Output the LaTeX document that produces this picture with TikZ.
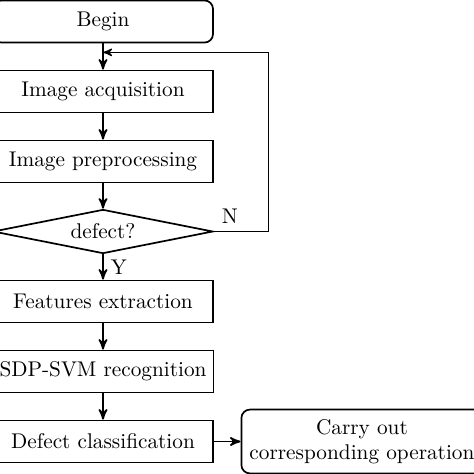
\documentclass[tikz,border=0pt]{standalone}
\usetikzlibrary{arrows,positioning,shapes.geometric}

\begin{document}
\begin{tikzpicture}[->,>=stealth',x=0.47pt,y=-0.47pt,node distance=32.9pt,
		thick,proc node/.style={rectangle,draw,minimum width=103.4pt,minimum height=19.8pt},
		term node/.style={proc node,rounded corners=4pt},
		test node/.style={diamond,draw,aspect=5,inner sep=0pt,minimum width=103.4pt,minimum height=20.7pt}]
		
		\useasboundingbox (0,0) rectangle (474,474);
		\clip (0,0) rectangle (474,474);
		
		\node[term node] (begin) at (103,21.5) {Begin};
		\node[proc node] (acq) [below of=begin] {Image acquisition};
		\node[proc node] (pre) [below of=acq] {Image preprocessing};
		\node[test node] (dia) [below of=pre] {defect?};
		\node[proc node] (feat) [below of=dia] {Features extraction};
		\node[proc node] (svm) [below of=feat] {SDP-SVM recognition};
		\node[proc node] (cls) [below of=svm] {Defect classification};
		\node[term node, minimum width=113.3pt, minimum height=30pt, align=center, node distance=121.7pt] (carry) [right of=cls] {Carry out\\corresponding operation};
		\coordinate[below=4.2pt of begin.south] (join);
		
		\path
		(begin) edge (acq)
		(acq) edge (pre)
		(pre) edge (dia)
		(dia) edge node [right] (ylabel) {Y} (feat)
		(feat) edge (svm)
		(svm) edge (cls)
		(cls) edge (carry);
		
		\draw[semithick] (dia.east) -- ++(55,0) |- (join);
		\node[above right] (nlabel) at (dia.east) {N};
\end{tikzpicture}
\end{document}
